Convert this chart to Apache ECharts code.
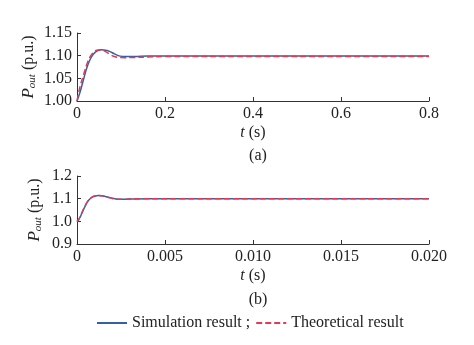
<!DOCTYPE html>
<html>
<head>
<meta charset="utf-8">
<script src="https://cdn.jsdelivr.net/npm/echarts@6/dist/echarts.min.js"></script>
<style>
html,body{margin:0;padding:0;background:#fff;}
#c{width:474px;height:345px;}
</style>
</head>
<body>
<div id="c"></div>
<script>
// ---- Data (a): full time range ----
var tA = [0, 0.007, 0.015, 0.022, 0.03, 0.037, 0.045, 0.056, 0.065, 0.075, 0.085, 0.098, 0.11, 0.13, 0.16, 0.2, 0.4, 0.6, 0.8];
var simA = [1.000, 1.020, 1.048, 1.072, 1.092, 1.103, 1.110, 1.113, 1.112, 1.109, 1.104, 1.099, 1.098, 1.098, 1.099, 1.099, 1.099, 1.099, 1.099];
var theoA = [1.000, 1.032, 1.058, 1.080, 1.098, 1.107, 1.112, 1.113, 1.109, 1.103, 1.098, 1.0958, 1.0956, 1.096, 1.097, 1.098, 1.098, 1.098, 1.098];

// ---- Data (b): zoomed time range ----
var tB = [0, 0.0001, 0.0002, 0.0003, 0.0004, 0.0005, 0.0006, 0.0007, 0.0008, 0.0009, 0.001, 0.0012, 0.0014, 0.0016, 0.0018, 0.002, 0.0022, 0.0024, 0.0026, 0.003, 0.004, 0.01, 0.02];
var simB = [1.000, 1.008, 1.022, 1.040, 1.057, 1.073, 1.086, 1.096, 1.103, 1.108, 1.111, 1.114, 1.113, 1.110, 1.106, 1.102, 1.099, 1.097, 1.097, 1.098, 1.100, 1.100, 1.100];
var theoB = [0.998, 1.009, 1.024, 1.042, 1.059, 1.075, 1.088, 1.097, 1.104, 1.109, 1.112, 1.114, 1.113, 1.109, 1.105, 1.101, 1.098, 1.097, 1.097, 1.099, 1.100, 1.100, 1.100];

// ---- Tick labels ----
var xTicksA = [0, 0.2, 0.4, 0.6, 0.8];
var xLabelsA = ['0', '0.2', '0.4', '0.6', '0.8'];
var yTicksA = [1.00, 1.05, 1.10, 1.15];
var yLabelsA = ['1.00', '1.05', '1.10', '1.15'];
var xTicksB = [0, 0.005, 0.010, 0.015, 0.020];
var xLabelsB = ['0', '0.005', '0.010', '0.015', '0.020'];
var yTicksB = [0.9, 1.0, 1.1, 1.2];
var yLabelsB = ['0.9', '1.0', '1.1', '1.2'];

var seriesNames = ['Simulation result ;', 'Theoretical result'];
var captions = ['(a)', '(b)'];

function pair(t, v) { return t.map(function (x, i) { return [x, v[i]]; }); }
function lookup(ticks, labels) {
  return function (v) {
    for (var i = 0; i < ticks.length; i++) {
      if (Math.abs(ticks[i] - v) < 1e-9) return labels[i];
    }
    return '';
  };
}

var FONT = '"Liberation Serif", "Times New Roman", serif';
var FS = 16;
var AX = '#333';
var TXT = '#222';
var BLUE = '#3560a8';
var RED = '#e03a55';

function xAxis(gi, ticks, labels, interval) {
  return {
    type: 'value', gridIndex: gi, min: ticks[0], max: ticks[ticks.length - 1], interval: interval,
    axisLine: { show: true, lineStyle: { color: AX, width: 1 } },
    axisTick: { show: true, inside: true, length: 4, lineStyle: { color: AX } },
    splitLine: { show: false },
    axisLabel: { color: TXT, fontFamily: FONT, fontSize: FS, margin: 5, formatter: lookup(ticks, labels) },
    name: '{i|t} (s)', nameLocation: 'middle', nameGap: 24,
    nameTextStyle: {
      color: TXT, fontFamily: FONT, fontSize: FS,
      rich: { i: { fontStyle: 'italic', fontFamily: FONT, fontSize: FS, color: TXT } }
    }
  };
}
function yAxis(gi, ticks, labels, interval, gap) {
  return {
    type: 'value', gridIndex: gi, min: ticks[0], max: ticks[ticks.length - 1], interval: interval,
    axisLine: { show: true, lineStyle: { color: AX, width: 1 } },
    axisTick: { show: true, inside: true, length: 4, lineStyle: { color: AX } },
    splitLine: { show: false },
    axisLabel: { color: TXT, fontFamily: FONT, fontSize: FS, margin: 5, formatter: lookup(ticks, labels) },
    name: '{i|P}{s|out} (p.u.)', nameLocation: 'middle', nameGap: gap, nameRotate: 90,
    nameMoveOverlap: false,
    nameTextStyle: {
      color: TXT, fontFamily: FONT, fontSize: FS,
      rich: {
        i: { fontStyle: 'italic', fontFamily: FONT, fontSize: 17, color: TXT },
        s: { fontStyle: 'italic', fontFamily: FONT, fontSize: 11, color: TXT, padding: [8, 0, 0, 0] }
      }
    }
  };
}
function lineSeries(name, xi, data, color, dashed) {
  return {
    name: name, type: 'line', xAxisIndex: xi, yAxisIndex: xi, data: data,
    smooth: 0.4, showSymbol: false, symbol: 'none', animation: false,
    lineStyle: { color: color, width: 1.5, type: dashed ? [6, 3] : 'solid' },
    itemStyle: { color: color }
  };
}

var chart = echarts.init(document.getElementById('c'), null, { renderer: 'canvas' });
chart.setOption({
  backgroundColor: '#fff',
  animation: false,
  grid: [
    { left: 77, top: 33, width: 352, height: 68 },
    { left: 77, top: 176, width: 352, height: 68 }
  ],
  xAxis: [xAxis(0, xTicksA, xLabelsA, 0.2), xAxis(1, xTicksB, xLabelsB, 0.005)],
  yAxis: [yAxis(0, yTicksA, yLabelsA, 0.05, 39), yAxis(1, yTicksB, yLabelsB, 0.1, 33)],
  title: [
    { text: captions[0], left: 253, top: 143, textAlign: 'center', textStyle: { fontFamily: FONT, fontSize: FS, fontWeight: 'normal', color: TXT } },
    { text: captions[1], left: 253, top: 287, textAlign: 'center', textStyle: { fontFamily: FONT, fontSize: FS, fontWeight: 'normal', color: TXT } }
  ],
  legend: {
    data: seriesNames, left: 91, top: 310, itemWidth: 30, itemHeight: 10, itemGap: 5,
    itemStyle: { opacity: 0, borderWidth: 0 },
    textStyle: { fontFamily: FONT, fontSize: FS, color: TXT }
  },
  series: [
    lineSeries(seriesNames[0], 0, pair(tA, simA), BLUE, false),
    lineSeries(seriesNames[1], 0, pair(tA, theoA), RED, true),
    lineSeries(seriesNames[0], 1, pair(tB, simB), BLUE, false),
    lineSeries(seriesNames[1], 1, pair(tB, theoB), RED, true)
  ]
});
</script>
</body>
</html>
